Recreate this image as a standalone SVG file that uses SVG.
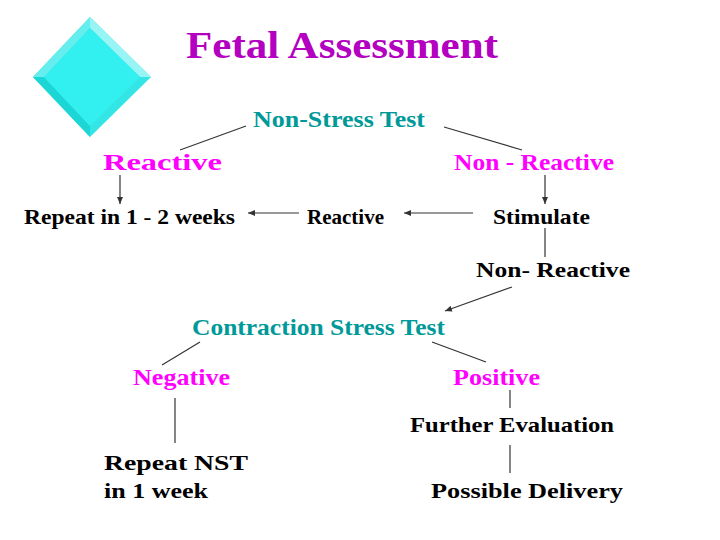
<svg xmlns="http://www.w3.org/2000/svg" width="720" height="540" viewBox="0 0 720 540">
<style>
text{font-family:"Liberation Serif","DejaVu Serif",serif;font-weight:bold}
.t{fill:#009999;font-size:23px}
.m{fill:#FF00FF;font-size:23px}
.k{fill:#000;font-size:22px}
.c{stroke:#333;stroke-width:1.2;fill:none}
</style>
<defs><marker id="a" markerWidth="8" markerHeight="8" refX="7" refY="4" orient="auto" markerUnits="userSpaceOnUse"><path d="M0,1 L7,4 L0,7 Z" fill="#333"/></marker></defs>
<g id="diamond">
<polygon points="90,17 151,77 90,137 33,77" fill="#33E5E5"/>
<polygon points="90,17 151,77 140,77 90,28" fill="#99F5F5"/>
<polygon points="90,17 90,28 44,77 33,77" fill="#66EEEE"/>
<polygon points="33,77 44,77 90,126 90,137" fill="#1CD6D6"/>
<polygon points="90,28 140,77 90,126 44,77" fill="#33F0F0"/>
</g>
<text x="186" y="58" textLength="312" lengthAdjust="spacingAndGlyphs" fill="#B400C0" font-size="38">Fetal Assessment</text>
<g id="nst"><text class="t" x="253" y="127" textLength="172" lengthAdjust="spacingAndGlyphs">Non-Stress Test</text></g>
<g id="reactive1"><text class="m" x="103" y="170" textLength="119" lengthAdjust="spacingAndGlyphs">Reactive</text></g>
<g id="nonreactive1"><text class="m" x="454" y="170" textLength="160" lengthAdjust="spacingAndGlyphs">Non - Reactive</text></g>
<g id="repeat"><text class="k" x="24" y="224" textLength="211" lengthAdjust="spacingAndGlyphs" font-size="20">Repeat in 1 - 2 weeks</text></g>
<g id="reactive2"><text class="k" x="307" y="224" textLength="77" lengthAdjust="spacingAndGlyphs" font-size="17">Reactive</text></g>
<g id="stimulate"><text class="k" x="493" y="224" textLength="97" lengthAdjust="spacingAndGlyphs" font-size="20">Stimulate</text></g>
<g id="nonreactive2"><text class="k" x="476" y="277" textLength="154" lengthAdjust="spacingAndGlyphs" font-size="23">Non- Reactive</text></g>
<g id="cst"><text class="t" x="192" y="335" textLength="253" lengthAdjust="spacingAndGlyphs">Contraction Stress Test</text></g>
<g id="negative"><text class="m" x="133" y="385" textLength="97" lengthAdjust="spacingAndGlyphs">Negative</text></g>
<g id="positive"><text class="m" x="453" y="385" textLength="87" lengthAdjust="spacingAndGlyphs">Positive</text></g>
<g id="further"><text class="k" x="410" y="432" textLength="204" lengthAdjust="spacingAndGlyphs">Further Evaluation</text></g>
<g id="repeatnst"><text class="k" x="104" y="470" textLength="144" lengthAdjust="spacingAndGlyphs">Repeat NST</text><text class="k" x="104" y="498" textLength="104" lengthAdjust="spacingAndGlyphs">in 1 week</text></g>
<g id="delivery"><text class="k" x="431" y="498" textLength="192" lengthAdjust="spacingAndGlyphs">Possible Delivery</text></g>
<g id="connectors">
<line class="c" x1="180" y1="150" x2="246" y2="126"/>
<line class="c" x1="444" y1="127" x2="522" y2="150"/>
<line class="c" x1="120" y1="175" x2="120" y2="204" marker-end="url(#a)"/>
<line class="c" x1="545" y1="175" x2="545" y2="204" marker-end="url(#a)"/>
<line class="c" x1="299" y1="213" x2="248" y2="213" marker-end="url(#a)"/>
<line class="c" x1="473" y1="213" x2="404" y2="213" marker-end="url(#a)"/>
<line class="c" x1="545" y1="228" x2="545" y2="257"/>
<line class="c" x1="512" y1="287" x2="445" y2="311" marker-end="url(#a)"/>
<line class="c" x1="162" y1="365" x2="200" y2="342"/>
<line class="c" x1="432" y1="342" x2="486" y2="362"/>
<line class="c" x1="510" y1="390" x2="510" y2="408"/>
<line class="c" x1="175" y1="398" x2="175" y2="443"/>
<line class="c" x1="510" y1="445" x2="510" y2="473"/>
</g>
</svg>
